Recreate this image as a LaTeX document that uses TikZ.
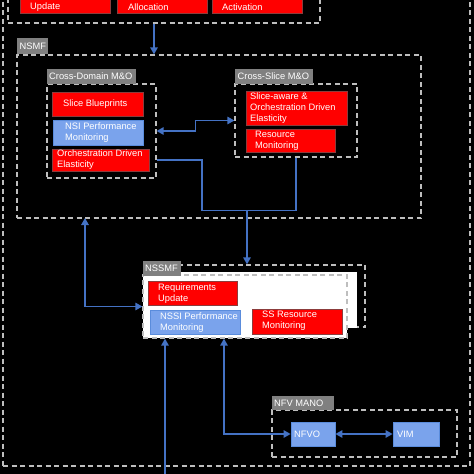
\documentclass[tikz,border=0pt]{standalone}
\usepackage{fontspec}
\setmainfont{Liberation Sans}
\usetikzlibrary{arrows.meta}
\definecolor{myred}{RGB}{255,0,0}
\definecolor{redline}{RGB}{140,60,60}
\definecolor{boxblue}{RGB}{122,163,236}
\definecolor{blueline}{RGB}{90,140,220}
\definecolor{arrowblue}{RGB}{68,114,196}
\definecolor{labelgray}{RGB}{128,128,128}
\definecolor{dashgray}{RGB}{190,190,190}
\begin{document}
\begin{tikzpicture}[x=1pt,y=-1pt,
  >={Triangle[length=7pt,width=7.5pt]},
  redbox/.style={draw=redline, fill=myred, line width=0.8pt, inner sep=0pt},
  bluebox/.style={draw=blueline, fill=boxblue, line width=0.8pt, inner sep=0pt},
  grp/.style={draw=dashgray, line width=1.3pt, dash pattern=on 5pt off 3.5pt, inner sep=0pt},
  lbl/.style={fill=labelgray, inner sep=0pt},
  txt/.style={anchor=west, inner sep=0pt, text=white, font=\fontsize{9.3}{11}\selectfont, align=left},
  arr/.style={draw=arrowblue, line width=1.4pt}]
\fill[black] (0,0) rectangle (474,474);
\useasboundingbox (0,0) rectangle (474,474);
\clip (0,0) rectangle (474,474);

% outer and top group
\node[grp, minimum width=467pt, minimum height=526pt] (outer) at (236.5,203) {};
\node[grp, minimum width=312pt, minimum height=83pt] (top) at (164,-18.5) {};
\node[redbox, minimum width=90pt, minimum height=33pt] (upd) at (65,-3.5) {};
\node[redbox, minimum width=90pt, minimum height=33pt] (alloc) at (162,-3.5) {};
\node[redbox, minimum width=90pt, minimum height=33pt] (act) at (257,-3.5) {};
\node[txt] (updt) at (30,7) {Update};
\node[txt] (alloct) at (128,7) {Allocation};
\node[txt] (actt) at (222,7) {Activation};

% NSMF
\node[grp, minimum width=404pt, minimum height=163pt] (nsmf) at (219,136.5) {};
\node[lbl, minimum width=31pt, minimum height=16pt] (nsmfl) at (32.5,46) {};
\node[txt] (nsmflt) at (19.5,46) {NSMF};

\node[grp, minimum width=109pt, minimum height=94pt] (cd) at (101.5,131) {};
\node[lbl, minimum width=89pt, minimum height=15pt] (cdl) at (91.5,76.5) {};
\node[txt] (cdlt) at (49,76.5) {Cross-Domain M\&O};

\node[grp, minimum width=122pt, minimum height=73pt] (cs) at (296,120.5) {};
\node[lbl, minimum width=78pt, minimum height=15pt] (csl) at (274,76.5) {};
\node[txt] (cslt) at (237.5,76.5) {Cross-Slice M\&O};

\node[redbox, minimum width=91pt, minimum height=24pt] (sb) at (97.5,104) {};
\node[txt] (sbt) at (63,104) {Slice Blueprints};
\node[bluebox, minimum width=90pt, minimum height=25pt] (nsi) at (98,132.5) {};
\node[txt] (nsit) at (65,132.5) {NSI Performance\\Monitoring};
\node[redbox, minimum width=97pt, minimum height=22pt] (ode) at (100.5,160) {};
\node[txt] (odet) at (57,160) {Orchestration Driven\\Elasticity};

\node[redbox, minimum width=101pt, minimum height=34pt] (sa) at (296.5,108) {};
\node[txt] (sat) at (250,108) {Slice-aware \&\\Orchestration Driven\\Elasticity};
\node[redbox, minimum width=89pt, minimum height=23pt] (rm) at (290.5,140.5) {};
\node[txt] (rmt) at (255,141) {Resource\\Monitoring};

% NSSMF
\node[grp, minimum width=215pt, minimum height=62pt] (nssb) at (257.5,296) {};
\node[fill=white, inner sep=0pt, minimum width=214pt, minimum height=56pt] (nssm) at (250,300) {};
\node[grp, fill=white, minimum width=204pt, minimum height=63pt] (nss) at (245,306.5) {};
\node[lbl, minimum width=38pt, minimum height=15pt] (nssl) at (162,268.5) {};
\node[txt] (nsslt) at (145,268.5) {NSSMF};

\node[redbox, minimum width=89pt, minimum height=24pt] (ru) at (192.5,293) {};
\node[txt] (rut) at (158,294) {Requirements\\Update};
\node[bluebox, minimum width=90pt, minimum height=24pt] (nssi) at (195,322) {};
\node[txt] (nssit) at (160,323) {NSSI Performance\\Monitoring};
\node[redbox, minimum width=90pt, minimum height=25pt] (ssr) at (297,321.5) {};
\node[txt] (ssrt) at (262,321) {SS Resource\\Monitoring};

% NFV MANO
\node[grp, minimum width=185pt, minimum height=47pt] (mano) at (364.5,433.5) {};
\node[lbl, minimum width=62pt, minimum height=14pt] (manol) at (303,403) {};
\node[txt] (manolt) at (274,403) {NFV MANO};
\node[bluebox, minimum width=44pt, minimum height=24pt] (nfvo) at (313,434) {};
\node[txt] (nfvot) at (294,434) {NFVO};
\node[bluebox, minimum width=46pt, minimum height=24pt] (vim) at (416,434) {};
\node[txt] (vimt) at (397,434) {VIM};

% connectors
\coordinate (j) at (247,210.5);
\coordinate (up) at (85,218);
\coordinate (bot) at (165,480);
\coordinate (mx) at (224,0);
\draw[arr,->] (top.south -| 154,0) -- (nsmf.north -| 154,0);
\draw[arr,<->] (cd.east) -- ++(39,0) |- (cs.west);
\draw[arr] (cd.east |- ode.east) -| (j -| 202,0) -- (j) -| (cs.south);
\draw[arr,->] (j) -- (j |- nssb.north);
\draw[arr,<->] (up) |- (nss.west);
\draw[arr,->] (bot) -- (bot |- nss.south);
\draw[arr,<->] (mx |- nss.south) |- (nfvo.west);
\draw[arr,<->] (nfvo.east) -- (vim.west);
\end{tikzpicture}
\end{document}
